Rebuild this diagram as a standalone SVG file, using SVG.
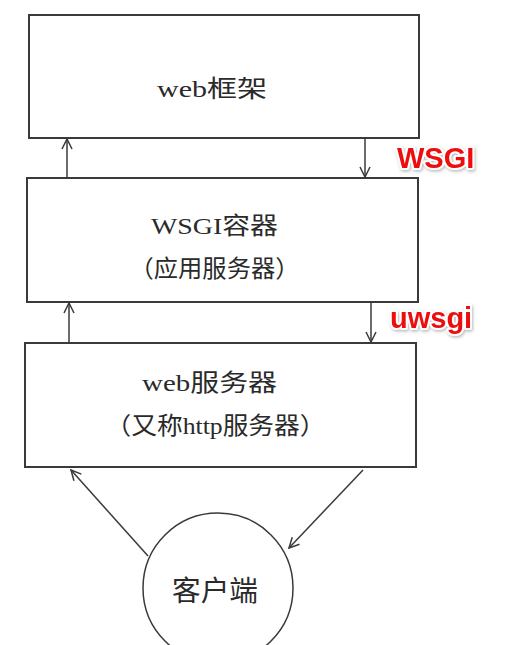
<svg xmlns="http://www.w3.org/2000/svg" width="513" height="645" viewBox="0 0 513 645">
<style>
.box{fill:#fff;stroke:#3a3a3a;stroke-width:2}
.lbl{font-family:"Liberation Serif","Noto Sans CJK SC",serif;font-size:24px;fill:#2a2a2a;text-anchor:middle}
.cjk{font-family:"Noto Sans CJK SC",sans-serif;font-size:28px;fill:#2a2a2a;text-anchor:middle}
.edge{stroke:#3a3a3a;stroke-width:1.5;fill:none;marker-end:url(#arr)}
.red{font-family:"Liberation Sans",Arial,sans-serif;font-weight:bold;font-size:29px;fill:#ee1111;stroke:#fff;stroke-width:4;paint-order:stroke;stroke-linejoin:round;filter:url(#sh)}
</style>
<defs>
<marker id="arr" viewBox="0 0 12 12" refX="11" refY="6" markerWidth="12" markerHeight="12" markerUnits="userSpaceOnUse" orient="auto">
<path d="M1,1 L11,6 L1,11" fill="none" stroke="#3a3a3a" stroke-width="1.5"/>
</marker>
<filter id="sh" x="-20%" y="-30%" width="140%" height="160%">
<feDropShadow dx="1" dy="1.5" stdDeviation="1.5" flood-color="#888" flood-opacity="0.6"/>
</filter>
</defs>
<rect width="513" height="645" fill="#fff"/>
<g id="web-framework">
<rect class="box" x="29" y="15" width="390" height="123"/>
<text class="lbl" x="212" y="97" textLength="110" lengthAdjust="spacingAndGlyphs">web框架</text>
</g>
<g id="wsgi-container">
<rect class="box" x="27" y="178" width="391" height="124"/>
<text class="lbl" x="214.5" y="234" textLength="127" lengthAdjust="spacingAndGlyphs">WSGI容器</text>
<text class="lbl" x="214.5" y="277" textLength="170" lengthAdjust="spacingAndGlyphs">（应用服务器）</text>
</g>
<g id="web-server">
<rect class="box" x="25" y="343" width="391" height="124"/>
<text class="lbl" x="209.5" y="391" textLength="135" lengthAdjust="spacingAndGlyphs">web服务器</text>
<text class="lbl" x="215.5" y="434" textLength="220" lengthAdjust="spacingAndGlyphs">（又称http服务器）</text>
</g>
<g id="client">
<circle cx="218" cy="588" r="75" fill="#fff" stroke="#3a3a3a" stroke-width="1.5"/>
<text class="cjk" x="215" y="601" textLength="86" lengthAdjust="spacingAndGlyphs">客户端</text>
</g>
<g id="connectors">
<line class="edge" x1="67" y1="178" x2="67" y2="139"/>
<line class="edge" x1="365" y1="138" x2="365" y2="177"/>
<line class="edge" x1="69" y1="343" x2="69" y2="303"/>
<line class="edge" x1="371" y1="302" x2="371" y2="342"/>
<line class="edge" x1="148" y1="556" x2="71" y2="470"/>
<line class="edge" x1="363" y1="470" x2="289" y2="548"/>
</g>
<g id="labels">
<text class="red" x="397" y="168">WSGI</text>
<text class="red" x="390" y="328">uwsgi</text>
</g>
</svg>
